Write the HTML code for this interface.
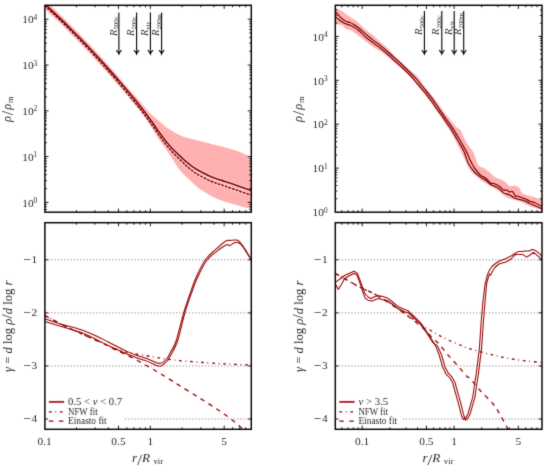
<!DOCTYPE html>
<html><head><meta charset="utf-8"><style>
html,body{margin:0;padding:0;background:#fff;}
svg{display:block;}
text{font-family:"Liberation Serif","DejaVu Serif",serif;fill:#2a2a2a;}
.tl{font-size:11.4px;}
.sup{font-size:7.4px;}
.al{font-size:11.6px;}
.sub2{font-size:8px;}
.it{font-style:italic;}
.ar{font-size:10.6px;}
.sub{font-size:6.8px;}
.lg{font-size:9.4px;}
.sl{font-size:14px;}
</style></head><body>
<svg width="550" height="470" viewBox="0 0 550 470">
<defs><filter id="bl" color-interpolation-filters="sRGB" x="0" y="0" width="550" height="470" filterUnits="userSpaceOnUse"><feConvolveMatrix order="3" kernelMatrix="1 6 1 6 36 6 1 6 1" divisor="64" edgeMode="duplicate" preserveAlpha="true"/></filter><clipPath id="ctl"><rect x="44.9" y="5.3" width="206.4" height="206.9"/></clipPath><clipPath id="ctr"><rect x="335.3" y="5.3" width="206.7" height="206.9"/></clipPath><clipPath id="cbl"><rect x="44.9" y="222.7" width="206.4" height="206.6"/></clipPath><clipPath id="cbr"><rect x="335.3" y="222.7" width="206.7" height="206.6"/></clipPath></defs>
<g filter="url(#bl)"><rect width="550" height="470" fill="#fff"/>
<g clip-path="url(#ctl)"><path d="M36,-7.77 C37.33,-6.57 41.33,-3.02 44,-0.59 C46.67,1.84 49.33,4.31 52,6.81 C54.67,9.31 57,11.51 60,14.42 C63,17.33 66.67,20.92 70,24.25 C73.33,27.58 76.67,30.97 80,34.41 C83.33,37.85 86.67,41.34 90,44.9 C93.33,48.45 96.67,52.07 100,55.74 C103.33,59.41 106.67,63.14 110,66.92 C113.33,70.7 116.67,74.54 120,78.43 C123.33,82.32 126.67,86.44 130,90.28 C133.33,94.12 137.5,98.66 140,101.5 C142.5,104.34 143.33,105.35 145,107.3 C146.67,109.25 147.65,110.93 150,113.2 C152.35,115.47 156.07,118.33 159.1,120.9 C162.13,123.47 165.17,126.4 168.2,128.6 C171.23,130.8 174.27,132.58 177.3,134.1 C180.33,135.62 182.62,136.57 186.4,137.7 C190.18,138.83 194.93,139.63 200,140.9 C205.07,142.17 210.73,143.67 216.8,145.3 C222.87,146.93 231.67,149.2 236.4,150.7 C241.13,152.2 242.77,153.27 245.2,154.3 C247.63,155.33 249.2,156.12 251,156.9 C252.8,157.68 255.17,158.65 256,159 L256,210.5 C255.17,210.28 253.33,209.85 251,209.2 C248.67,208.55 245.17,207.5 242,206.6 C238.83,205.7 235.9,204.98 232,203.8 C228.1,202.62 222.27,200.93 218.6,199.5 C214.93,198.07 212.6,196.62 210,195.2 C207.4,193.78 205.23,192.47 203,191 C200.77,189.53 199.08,188.47 196.6,186.4 C194.12,184.33 190.37,180.75 188.1,178.6 C185.83,176.45 184.65,175.27 183,173.5 C181.35,171.73 180.03,170.53 178.2,168 C176.37,165.47 173.95,161.3 172,158.3 C170.05,155.3 168.17,152.47 166.5,150 C164.83,147.53 163.75,146 162,143.5 C160.25,141 158.33,138.5 156,135 C153.67,131.5 150.43,126.17 148,122.5 C145.57,118.83 144.4,116.89 141.4,113 C138.4,109.11 133.57,103.46 130,99.18 C126.43,94.9 123.33,91.22 120,87.33 C116.67,83.44 113.33,79.6 110,75.82 C106.67,72.04 103.33,68.31 100,64.64 C96.67,60.97 93.33,57.36 90,53.8 C86.67,50.25 83.33,46.75 80,43.31 C76.67,39.87 73.33,36.48 70,33.15 C66.67,29.82 63,26.23 60,23.32 C57,20.41 54.67,18.21 52,15.71 C49.33,13.21 46.67,10.74 44,8.31 C41.33,5.88 37.33,2.33 36,1.13 Z" fill="#ffb0b0"/><path d="M36,-2.22 C37.33,-1.02 41.33,2.54 44,4.98 C46.67,7.42 49.33,9.9 52,12.42 C54.67,14.94 57,17.15 60,20.07 C63,22.99 66.67,26.6 70,29.95 C73.33,33.3 76.67,36.7 80,40.16 C83.33,43.62 86.67,47.13 90,50.7 C93.33,54.27 96.67,57.89 100,61.59 C103.33,65.28 106.67,69.06 110,72.87 C113.33,76.68 116.67,80.54 120,84.46 C123.33,88.38 127,92.76 130,96.38 C133,100 135.6,103.16 138,106.19 C140.4,109.22 142.07,111.41 144.4,114.54 C146.73,117.68 149.4,121.33 152,125.02 C154.6,128.71 157.67,133.42 160,136.7 C162.33,139.98 163.95,142.17 166,144.7 C168.05,147.23 169.97,149.41 172.3,151.91 C174.63,154.4 177.55,157.24 180,159.66 C182.45,162.08 184.75,164.42 187,166.42 C189.25,168.42 191.33,170.08 193.5,171.63 C195.67,173.19 197.17,174.19 200,175.75 C202.83,177.31 207.5,179.63 210.5,180.97 C213.5,182.31 215.58,182.93 218,183.79 C220.42,184.64 221.67,184.97 225,186.1 C228.33,187.23 233.67,189.05 238,190.55 C242.33,192.05 248,194.03 251,195.1 C254,196.17 255.17,196.64 256,196.95" fill="none" stroke="#ffe2e2" stroke-width="3.1"/><path d="M36,-3.92 C37.33,-2.73 41.33,0.82 44,3.24 C46.67,5.66 49.33,8.11 52,10.6 C54.67,13.09 57,15.28 60,18.17 C63,21.06 66.67,24.63 70,27.95 C73.33,31.27 76.67,34.64 80,38.06 C83.33,41.48 86.67,44.96 90,48.5 C93.33,52.04 96.67,55.64 100,59.29 C103.33,62.94 106.67,66.62 110,70.37 C113.33,74.12 116.67,77.93 120,81.8 C123.33,85.66 127,90.01 130,93.58 C133,97.15 135.6,100.25 138,103.23 C140.4,106.21 142.07,108.36 144.4,111.46 C146.73,114.55 149.4,118.14 152,121.78 C154.6,125.42 157.67,130.05 160,133.3 C162.33,136.55 163.95,138.77 166,141.3 C168.05,143.83 169.97,146.05 172.3,148.49 C174.63,150.93 177.55,153.62 180,155.94 C182.45,158.26 184.75,160.51 187,162.42 C189.25,164.33 191.33,165.91 193.5,167.38 C195.67,168.86 197.17,169.74 200,171.25 C202.83,172.76 207.5,175.1 210.5,176.43 C213.5,177.76 215.58,178.37 218,179.21 C220.42,180.06 221.67,180.39 225,181.5 C228.33,182.62 233.67,184.42 238,185.91 C242.33,187.39 248,189.34 251,190.4 C254,191.46 255.17,191.94 256,192.25" fill="none" stroke="#ffe2e2" stroke-width="3.1"/><path d="M36,-2.22 C37.33,-1.02 41.33,2.54 44,4.98 C46.67,7.42 49.33,9.9 52,12.42 C54.67,14.94 57,17.15 60,20.07 C63,22.99 66.67,26.6 70,29.95 C73.33,33.3 76.67,36.7 80,40.16 C83.33,43.62 86.67,47.13 90,50.7 C93.33,54.27 96.67,57.89 100,61.59 C103.33,65.28 106.67,69.06 110,72.87 C113.33,76.68 116.67,80.54 120,84.46 C123.33,88.38 127,92.76 130,96.38 C133,100 135.6,103.16 138,106.19 C140.4,109.22 142.07,111.41 144.4,114.54 C146.73,117.68 149.4,121.33 152,125.02 C154.6,128.71 157.67,133.42 160,136.7 C162.33,139.98 163.95,142.17 166,144.7 C168.05,147.23 169.97,149.41 172.3,151.91 C174.63,154.4 177.55,157.24 180,159.66 C182.45,162.08 184.75,164.42 187,166.42 C189.25,168.42 191.33,170.08 193.5,171.63 C195.67,173.19 197.17,174.19 200,175.75 C202.83,177.31 207.5,179.63 210.5,180.97 C213.5,182.31 215.58,182.93 218,183.79 C220.42,184.64 221.67,184.97 225,186.1 C228.33,187.23 233.67,189.05 238,190.55 C242.33,192.05 248,194.03 251,195.1 C254,196.17 255.17,196.64 256,196.95" fill="none" stroke="#880000" stroke-width="1.6" stroke-dasharray="2.9 0.9"/><path d="M36,-3.92 C37.33,-2.73 41.33,0.82 44,3.24 C46.67,5.66 49.33,8.11 52,10.6 C54.67,13.09 57,15.28 60,18.17 C63,21.06 66.67,24.63 70,27.95 C73.33,31.27 76.67,34.64 80,38.06 C83.33,41.48 86.67,44.96 90,48.5 C93.33,52.04 96.67,55.64 100,59.29 C103.33,62.94 106.67,66.62 110,70.37 C113.33,74.12 116.67,77.93 120,81.8 C123.33,85.66 127,90.01 130,93.58 C133,97.15 135.6,100.25 138,103.23 C140.4,106.21 142.07,108.36 144.4,111.46 C146.73,114.55 149.4,118.14 152,121.78 C154.6,125.42 157.67,130.05 160,133.3 C162.33,136.55 163.95,138.77 166,141.3 C168.05,143.83 169.97,146.05 172.3,148.49 C174.63,150.93 177.55,153.62 180,155.94 C182.45,158.26 184.75,160.51 187,162.42 C189.25,164.33 191.33,165.91 193.5,167.38 C195.67,168.86 197.17,169.74 200,171.25 C202.83,172.76 207.5,175.1 210.5,176.43 C213.5,177.76 215.58,178.37 218,179.21 C220.42,180.06 221.67,180.39 225,181.5 C228.33,182.62 233.67,184.42 238,185.91 C242.33,187.39 248,189.34 251,190.4 C254,191.46 255.17,191.94 256,192.25" fill="none" stroke="#880000" stroke-width="1.6"/></g><g clip-path="url(#ctr)"><path d="M333,6.5 C333.52,6.82 334.53,7.53 336.1,8.4 C337.67,9.27 340.1,10.22 342.4,11.7 C344.7,13.18 347.42,15.57 349.9,17.3 C352.38,19.03 354.78,20.07 357.3,22.1 C359.82,24.13 362.38,27.27 365,29.5 C367.62,31.73 370.5,33.42 373,35.5 C375.5,37.58 377.42,39.67 380,42 C382.58,44.33 386,46.92 388.5,49.5 C391,52.08 392.58,55 395,57.5 C397.42,60 400.33,62.17 403,64.5 C405.67,66.83 408.67,69.5 411,71.5 C413.33,73.5 414.83,74.08 417,76.5 C419.17,78.92 421.83,83.17 424,86 C426.17,88.83 428,91 430,93.5 C432,96 434,98.33 436,101 C438,103.67 440,106.83 442,109.5 C444,112.17 446.17,114.67 448,117 C449.83,119.33 451.5,121.67 453,123.5 C454.5,125.33 455.82,126.92 457,128 C458.18,129.08 458.8,128 460.1,130 C461.4,132 463.4,137.33 464.8,140 C466.2,142.67 467.18,144.07 468.5,146 C469.82,147.93 471.7,149.93 472.7,151.6 C473.7,153.27 473.87,154.27 474.5,156 C475.13,157.73 475.67,160.2 476.5,162 C477.33,163.8 478.32,165.77 479.5,166.8 C480.68,167.83 481.77,167.07 483.6,168.2 C485.43,169.33 488.68,172.13 490.5,173.6 C492.32,175.07 493.37,176.2 494.5,177 C495.63,177.8 495.93,177.82 497.3,178.4 C498.67,178.98 501.12,179.58 502.7,180.5 C504.28,181.42 505.67,182.92 506.8,183.9 C507.93,184.88 508.63,185.98 509.5,186.4 C510.37,186.82 511.08,186.48 512,186.4 C512.92,186.32 513.82,185.63 515,185.9 C516.18,186.17 517.97,186.78 519.1,188 C520.23,189.22 520.43,191.95 521.8,193.2 C523.17,194.45 525.25,194.78 527.3,195.5 C529.35,196.22 531.82,196.82 534.1,197.5 C536.38,198.18 539.18,199.02 541,199.6 C542.82,200.18 544.33,200.77 545,201 L545,211 C544.2,210.72 541.87,209.88 540.2,209.3 C538.53,208.72 536.92,208.15 535,207.5 C533.08,206.85 531.33,206.47 528.7,205.4 C526.07,204.33 522.72,202.4 519.2,201.1 C515.68,199.8 510.8,199.15 507.6,197.6 C504.4,196.05 501.93,193.25 500,191.8 C498.07,190.35 497.5,189.82 496,188.9 C494.5,187.98 492.67,187.27 491,186.3 C489.33,185.33 487.67,184.17 486,183.1 C484.33,182.03 482.67,181.15 481,179.9 C479.33,178.65 477.5,176.83 476,175.6 C474.5,174.37 473.33,174.1 472,172.5 C470.67,170.9 469.25,168.33 468,166 C466.75,163.67 465.67,161 464.5,158.5 C463.33,156 462.06,153.17 461,151 C459.94,148.83 459.09,147.33 458.15,145.5 C457.21,143.67 456.46,142.08 455.38,140 C454.3,137.92 452.92,135.08 451.69,133 C450.46,130.92 449.61,129.92 448.03,127.5 C446.45,125.08 443.84,120.92 442.2,118.5 C440.56,116.08 439.87,115.42 438.2,113 C436.53,110.58 434.37,107.08 432.2,104 C430.03,100.92 427.03,96.92 425.2,94.5 C423.37,92.08 422.7,91.58 421.2,89.5 C419.7,87.42 417.7,84.08 416.2,82 C414.7,79.92 414.22,78.97 412.2,77 C410.18,75.03 406.85,72.45 404.08,70.2 C401.31,67.95 398.14,65.62 395.6,63.5 C393.06,61.38 391.27,59.5 388.84,57.5 C386.41,55.5 383.68,53.33 381.04,51.5 C378.4,49.67 375.67,48.33 373,46.5 C370.33,44.67 367.62,42.52 365,40.5 C362.38,38.48 359.2,35.85 357.3,34.4 C355.4,32.95 354.83,32.6 353.6,31.8 C352.37,31 351.13,30.1 349.9,29.6 C348.67,29.1 347.45,29.55 346.2,28.8 C344.95,28.05 344.08,25.97 342.4,25.1 C340.72,24.23 337.67,24.2 336.1,23.6 C334.53,23 333.52,21.85 333,21.5 Z" fill="#ffb0b0" stroke="#ffb0b0" stroke-width="0.6" stroke-linejoin="round"/><path d="M333,15.5 C333.52,15.8 334.9,16.45 336.1,17.3 C337.3,18.15 338.65,19.55 340.2,20.6 C341.75,21.65 343.78,22.85 345.4,23.6 C347.02,24.35 348.53,24.53 349.9,25.1 C351.27,25.67 352.12,26.07 353.6,27 C355.08,27.93 356.9,29.13 358.8,30.7 C360.7,32.27 362.63,34.38 365,36.4 C367.37,38.42 370.33,40.75 373,42.8 C375.67,44.85 378.42,46.65 381,48.7 C383.58,50.75 386.17,53.06 388.5,55.11 C390.83,57.16 392.58,58.81 395,61.02 C397.42,63.23 400.33,65.81 403,68.35 C405.67,70.88 409,74.15 411,76.23 C413,78.31 413.33,78.87 415,80.83 C416.67,82.79 419.3,85.95 421,87.97 C422.7,89.99 423.93,91.35 425.2,92.93 C426.47,94.51 427.47,95.95 428.6,97.45 C429.73,98.95 430.33,99.63 432,101.93 C433.67,104.23 437.02,109.05 438.6,111.26 C440.18,113.47 439.92,112.93 441.5,115.21 C443.08,117.49 446.35,122.35 448.1,124.93 C449.85,127.51 450.43,128.16 452,130.67 C453.57,133.18 455.62,136.78 457.5,140 C459.38,143.22 461.9,147.22 463.3,150 C464.7,152.78 465.05,154.45 465.9,156.7 C466.75,158.95 467.27,161.3 468.4,163.5 C469.53,165.7 471.43,168.23 472.7,169.9 C473.97,171.57 474.62,172.23 476,173.5 C477.38,174.77 479.33,176.35 481,177.5 C482.67,178.65 484.33,179.2 486,180.4 C487.67,181.6 489.33,183.58 491,184.7 C492.67,185.82 494.5,186.3 496,187.1 C497.5,187.9 498.7,188.52 500,189.5 C501.3,190.48 502.2,192.1 503.8,193 C505.4,193.9 507.68,194.02 509.6,194.9 C511.52,195.78 512.9,197.33 515.3,198.3 C517.7,199.27 521.6,199.83 524,200.7 C526.4,201.57 527.8,202.63 529.7,203.5 C531.6,204.37 533.57,205.1 535.4,205.9 C537.23,206.7 539.1,207.57 540.7,208.3 C542.3,209.03 544.28,209.97 545,210.3" fill="none" stroke="#ffd6d6" stroke-width="2.5" stroke-linejoin="round"/><path d="M333,10.4 C333.52,10.73 334.9,11.32 336.1,12.4 C337.3,13.48 338.65,15.47 340.2,16.9 C341.75,18.33 343.78,20.07 345.4,21 C347.02,21.93 348.53,21.93 349.9,22.5 C351.27,23.07 352.12,23.47 353.6,24.4 C355.08,25.33 356.9,26.58 358.8,28.1 C360.7,29.62 362.63,31.52 365,33.5 C367.37,35.48 370.33,37.92 373,40 C375.67,42.08 378.42,43.94 381,46 C383.58,48.06 386.17,50.36 388.5,52.38 C390.83,54.4 392.58,55.97 395,58.14 C397.42,60.31 400.33,62.91 403,65.43 C405.67,67.95 408.67,70.88 411,73.24 C413.33,75.6 414.92,77.17 417,79.58 C419.08,81.98 421.73,85.48 423.5,87.67 C425.27,89.86 426.27,91.05 427.6,92.74 C428.93,94.42 430.33,96.23 431.5,97.78 C432.67,99.33 433.13,99.95 434.6,102.03 C436.07,104.11 438.73,107.97 440.3,110.26 C441.87,112.55 442.22,113.22 444,115.79 C445.78,118.37 449.28,123.23 451,125.71 C452.72,128.19 452.82,128.29 454.3,130.67 C455.78,133.05 458.02,136.78 459.9,140 C461.78,143.22 464.25,147.5 465.6,150 C466.95,152.5 467.25,153.32 468,155 C468.75,156.68 469.27,158.35 470.1,160.1 C470.93,161.85 472.02,163.85 473,165.5 C473.98,167.15 474.67,168.35 476,170 C477.33,171.65 479.33,174.02 481,175.4 C482.67,176.78 484.33,177.02 486,178.3 C487.67,179.58 489.75,182.25 491,183.1 C492.25,183.95 492.67,183.18 493.5,183.4 C494.33,183.62 494.92,183.82 496,184.4 C497.08,184.98 498.7,185.95 500,186.9 C501.3,187.85 502.68,189.57 503.8,190.1 C504.92,190.63 505.73,189.78 506.7,190.1 C507.67,190.42 508.63,191.75 509.6,192 C510.57,192.25 511.55,190.95 512.5,191.6 C513.45,192.25 514.35,195.12 515.3,195.9 C516.25,196.68 516.75,195.9 518.2,196.3 C519.65,196.7 522.08,197.5 524,198.3 C525.92,199.1 527.8,200.32 529.7,201.1 C531.6,201.88 533.57,202.2 535.4,203 C537.23,203.8 539.1,205.07 540.7,205.9 C542.3,206.73 544.28,207.65 545,208" fill="none" stroke="#ffd6d6" stroke-width="2.5" stroke-linejoin="round"/><path d="M333,15.5 C333.52,15.8 334.9,16.45 336.1,17.3 C337.3,18.15 338.65,19.55 340.2,20.6 C341.75,21.65 343.78,22.85 345.4,23.6 C347.02,24.35 348.53,24.53 349.9,25.1 C351.27,25.67 352.12,26.07 353.6,27 C355.08,27.93 356.9,29.13 358.8,30.7 C360.7,32.27 362.63,34.38 365,36.4 C367.37,38.42 370.33,40.75 373,42.8 C375.67,44.85 378.42,46.65 381,48.7 C383.58,50.75 386.17,53.06 388.5,55.11 C390.83,57.16 392.58,58.81 395,61.02 C397.42,63.23 400.33,65.81 403,68.35 C405.67,70.88 409,74.15 411,76.23 C413,78.31 413.33,78.87 415,80.83 C416.67,82.79 419.3,85.95 421,87.97 C422.7,89.99 423.93,91.35 425.2,92.93 C426.47,94.51 427.47,95.95 428.6,97.45 C429.73,98.95 430.33,99.63 432,101.93 C433.67,104.23 437.02,109.05 438.6,111.26 C440.18,113.47 439.92,112.93 441.5,115.21 C443.08,117.49 446.35,122.35 448.1,124.93 C449.85,127.51 450.43,128.16 452,130.67 C453.57,133.18 455.62,136.78 457.5,140 C459.38,143.22 461.9,147.22 463.3,150 C464.7,152.78 465.05,154.45 465.9,156.7 C466.75,158.95 467.27,161.3 468.4,163.5 C469.53,165.7 471.43,168.23 472.7,169.9 C473.97,171.57 474.62,172.23 476,173.5 C477.38,174.77 479.33,176.35 481,177.5 C482.67,178.65 484.33,179.2 486,180.4 C487.67,181.6 489.33,183.58 491,184.7 C492.67,185.82 494.5,186.3 496,187.1 C497.5,187.9 498.7,188.52 500,189.5 C501.3,190.48 502.2,192.1 503.8,193 C505.4,193.9 507.68,194.02 509.6,194.9 C511.52,195.78 512.9,197.33 515.3,198.3 C517.7,199.27 521.6,199.83 524,200.7 C526.4,201.57 527.8,202.63 529.7,203.5 C531.6,204.37 533.57,205.1 535.4,205.9 C537.23,206.7 539.1,207.57 540.7,208.3 C542.3,209.03 544.28,209.97 545,210.3" fill="none" stroke="#880000" stroke-width="1.35" stroke-linejoin="round"/><path d="M333,10.4 C333.52,10.73 334.9,11.32 336.1,12.4 C337.3,13.48 338.65,15.47 340.2,16.9 C341.75,18.33 343.78,20.07 345.4,21 C347.02,21.93 348.53,21.93 349.9,22.5 C351.27,23.07 352.12,23.47 353.6,24.4 C355.08,25.33 356.9,26.58 358.8,28.1 C360.7,29.62 362.63,31.52 365,33.5 C367.37,35.48 370.33,37.92 373,40 C375.67,42.08 378.42,43.94 381,46 C383.58,48.06 386.17,50.36 388.5,52.38 C390.83,54.4 392.58,55.97 395,58.14 C397.42,60.31 400.33,62.91 403,65.43 C405.67,67.95 408.67,70.88 411,73.24 C413.33,75.6 414.92,77.17 417,79.58 C419.08,81.98 421.73,85.48 423.5,87.67 C425.27,89.86 426.27,91.05 427.6,92.74 C428.93,94.42 430.33,96.23 431.5,97.78 C432.67,99.33 433.13,99.95 434.6,102.03 C436.07,104.11 438.73,107.97 440.3,110.26 C441.87,112.55 442.22,113.22 444,115.79 C445.78,118.37 449.28,123.23 451,125.71 C452.72,128.19 452.82,128.29 454.3,130.67 C455.78,133.05 458.02,136.78 459.9,140 C461.78,143.22 464.25,147.5 465.6,150 C466.95,152.5 467.25,153.32 468,155 C468.75,156.68 469.27,158.35 470.1,160.1 C470.93,161.85 472.02,163.85 473,165.5 C473.98,167.15 474.67,168.35 476,170 C477.33,171.65 479.33,174.02 481,175.4 C482.67,176.78 484.33,177.02 486,178.3 C487.67,179.58 489.75,182.25 491,183.1 C492.25,183.95 492.67,183.18 493.5,183.4 C494.33,183.62 494.92,183.82 496,184.4 C497.08,184.98 498.7,185.95 500,186.9 C501.3,187.85 502.68,189.57 503.8,190.1 C504.92,190.63 505.73,189.78 506.7,190.1 C507.67,190.42 508.63,191.75 509.6,192 C510.57,192.25 511.55,190.95 512.5,191.6 C513.45,192.25 514.35,195.12 515.3,195.9 C516.25,196.68 516.75,195.9 518.2,196.3 C519.65,196.7 522.08,197.5 524,198.3 C525.92,199.1 527.8,200.32 529.7,201.1 C531.6,201.88 533.57,202.2 535.4,203 C537.23,203.8 539.1,205.07 540.7,205.9 C542.3,206.73 544.28,207.65 545,208" fill="none" stroke="#880000" stroke-width="1.35" stroke-linejoin="round"/></g><g clip-path="url(#cbl)"><line x1="44.9" y1="259.8" x2="251.3" y2="259.8" stroke="#8a8a8a" stroke-width="1" stroke-dasharray="1.25 1.95"/><line x1="44.9" y1="312.87" x2="251.3" y2="312.87" stroke="#8a8a8a" stroke-width="1" stroke-dasharray="1.25 1.95"/><line x1="44.9" y1="365.94" x2="251.3" y2="365.94" stroke="#8a8a8a" stroke-width="1" stroke-dasharray="1.25 1.95"/><line x1="44.9" y1="419.01" x2="251.3" y2="419.01" stroke="#8a8a8a" stroke-width="1" stroke-dasharray="1.25 1.95"/><path d="M44.9,315.5 C48,317.13 57.22,322.17 63.5,325.3 C69.78,328.43 77.73,332.05 82.6,334.3 C87.47,336.55 89.35,337.32 92.7,338.8 C96.05,340.28 99.98,341.98 102.7,343.2 C105.42,344.42 106.62,345.08 109,346.1 C111.38,347.12 114.33,348.35 117,349.3 C119.67,350.25 122.17,351.07 125,351.8 C127.83,352.53 130.45,353.05 134,353.7 C137.55,354.35 142.45,355.05 146.3,355.7 C150.15,356.35 152.58,356.88 157.1,357.6 C161.62,358.32 166.53,359.25 173.4,360 C180.27,360.75 189.37,361.43 198.3,362.1 C207.23,362.77 218.05,363.52 227,364 C235.95,364.48 247.83,364.83 252,365" fill="none" stroke="#990000" stroke-width="1.3" stroke-dasharray="2.8 3.6 0.9 3.7"/><path d="M44.9,315.5 C48,317.13 57.22,322.17 63.5,325.3 C69.78,328.43 77.73,332.05 82.6,334.3 C87.47,336.55 89.35,337.3 92.7,338.8 C96.05,340.3 99.98,342.02 102.7,343.3 C105.42,344.58 106.62,345.32 109,346.5 C111.38,347.68 114.33,349.12 117,350.4 C119.67,351.68 122.3,352.88 125,354.2 C127.7,355.52 130.33,356.81 133.2,358.3 C136.07,359.8 139.28,361.57 142.2,363.17 C145.12,364.77 147.85,366.27 150.7,367.92 C153.55,369.57 156.43,371.36 159.3,373.08 C162.17,374.8 164.58,376.17 167.9,378.22 C171.22,380.27 174.13,382.21 179.2,385.37 C184.27,388.53 191.92,393.14 198.3,397.17 C204.68,401.2 211.75,405.65 217.5,409.53 C223.25,413.41 228.22,416.87 232.8,420.45 C237.38,424.03 242.97,429.24 245,431" fill="none" stroke="#990000" stroke-width="1.3" stroke-dasharray="4.5 4.8"/><path d="M40,320.3 C40.82,320.52 41.2,320.52 44.9,321.6 C48.6,322.68 56.28,325.01 62.2,326.8 C68.12,328.59 75.1,330.42 80.4,332.33 C85.7,334.24 89.37,336.08 94,338.28 C98.63,340.47 102.8,342.93 108.2,345.5 C113.6,348.07 121.73,351.65 126.4,353.7 C131.07,355.75 132.7,356.52 136.2,357.8 C139.7,359.08 144.05,360.11 147.4,361.37 C150.75,362.63 154.18,364.59 156.3,365.39 C158.42,366.19 158.85,366.42 160.1,366.19 C161.35,365.96 162.57,364.97 163.8,364.02 C165.03,363.07 166.28,362.09 167.5,360.5 C168.72,358.91 169.45,357.67 171.1,354.5 C172.75,351.33 175.08,348.5 177.4,341.5 C179.72,334.5 182.47,321.08 185,312.5 C187.53,303.92 190.57,295.72 192.6,290 C194.62,284.28 194.83,283.08 197.15,278.2 C199.47,273.32 203.22,265.18 206.5,260.7 C209.78,256.22 213.45,253.95 216.8,251.3 C220.15,248.65 224.47,245.75 226.6,244.8 C228.73,243.85 228.32,245.93 229.6,245.6 C230.88,245.27 233.02,243.33 234.3,242.8 C235.58,242.27 236.18,242.12 237.3,242.4 C238.42,242.68 239.55,242.98 241,244.5 C242.45,246.02 244.25,248.83 246,251.5 C247.75,254.17 250,258.08 251.5,260.5 C253,262.92 254.42,265.08 255,266" fill="none" stroke="#950000" stroke-width="1.05" stroke-linejoin="round"/><path d="M40,317.5 C40.82,317.72 41.2,317.63 44.9,318.8 C48.6,319.97 56.28,322.72 62.2,324.5 C68.12,326.28 75.1,327.77 80.4,329.51 C85.7,331.25 89.37,332.84 94,334.92 C98.63,337 102.8,339.3 108.2,342 C113.6,344.7 121.73,348.9 126.4,351.1 C131.07,353.3 132.7,353.91 136.2,355.2 C139.7,356.49 144.05,357.58 147.4,358.84 C150.75,360.1 154.18,362 156.3,362.74 C158.42,363.49 158.9,363.46 160.1,363.31 C161.3,363.16 162.35,362.66 163.5,361.86 C164.65,361.06 165.82,360.14 167,358.5 C168.18,356.86 169.03,354.92 170.55,352 C172.07,349.08 173.89,347.58 176.1,341 C178.31,334.42 181.25,321 183.8,312.5 C186.35,304 189.38,295.8 191.4,290 C193.43,284.2 193.63,282.73 195.95,277.7 C198.27,272.67 201.99,264.52 205.3,259.8 C208.61,255.08 212.43,252.5 215.8,249.4 C219.17,246.3 223.1,242.7 225.5,241.2 C227.9,239.7 228.43,240.6 230.2,240.4 C231.97,240.2 234.53,239.77 236.1,240 C237.67,240.23 238.02,240.12 239.6,241.8 C241.18,243.48 243.62,246.98 245.6,250.1 C247.58,253.22 249.93,257.85 251.5,260.5 C253.07,263.15 254.42,265.08 255,266" fill="none" stroke="#950000" stroke-width="1.05" stroke-linejoin="round"/></g><g clip-path="url(#cbr)"><line x1="335.3" y1="259.8" x2="542" y2="259.8" stroke="#8a8a8a" stroke-width="1" stroke-dasharray="1.25 1.95"/><line x1="335.3" y1="312.87" x2="542" y2="312.87" stroke="#8a8a8a" stroke-width="1" stroke-dasharray="1.25 1.95"/><line x1="335.3" y1="365.94" x2="542" y2="365.94" stroke="#8a8a8a" stroke-width="1" stroke-dasharray="1.25 1.95"/><line x1="335.3" y1="419.01" x2="542" y2="419.01" stroke="#8a8a8a" stroke-width="1" stroke-dasharray="1.25 1.95"/><path d="M335.3,273.5 C337.38,274.67 343.58,278.17 347.8,280.5 C352.02,282.83 356.17,285.25 360.6,287.5 C365.03,289.75 369.27,291.2 374.4,294 C379.53,296.8 386.3,301.05 391.4,304.3 C396.5,307.55 401.07,310.8 405,313.5 C408.93,316.2 411.88,318.28 415,320.5 C418.12,322.72 421.28,325.27 423.7,326.8 C426.12,328.33 427.73,328.73 429.5,329.7 C431.27,330.67 432.7,331.65 434.3,332.6 C435.9,333.55 436.8,334.18 439.1,335.4 C441.4,336.62 444.62,338.3 448.1,339.9 C451.58,341.5 456.35,343.52 460,345 C463.65,346.48 464.43,347.12 470,348.8 C475.57,350.48 485.6,353.27 493.4,355.1 C501.2,356.93 508.53,358.55 516.8,359.8 C525.07,361.05 538.63,362.13 543,362.6" fill="none" stroke="#990000" stroke-width="1.3" stroke-dasharray="2.8 3.6 0.9 3.7"/><path d="M335.3,273.5 C337.38,274.67 343.58,278.17 347.8,280.5 C352.02,282.83 356.17,285.25 360.6,287.5 C365.03,289.75 369.27,291.2 374.4,294 C379.53,296.8 386.3,300.97 391.4,304.3 C396.5,307.63 401.07,311.13 405,314 C408.93,316.87 411.88,319.05 415,321.5 C418.12,323.95 420.8,325.98 423.7,328.7 C426.6,331.42 429.83,335.23 432.4,337.8 C434.97,340.37 436.48,341.22 439.1,344.1 C441.72,346.98 444.95,351.45 448.1,355.1 C451.25,358.75 454.88,362.48 458,366 C461.12,369.52 464.8,374.12 466.8,376.2 C468.8,378.28 467.8,376.15 470,378.5 C472.2,380.85 476.1,386 480,390.3 C483.9,394.6 490.07,400.27 493.4,404.3 C496.73,408.33 497.4,410.05 500,414.5 C502.6,418.95 507.5,428.25 509,431" fill="none" stroke="#990000" stroke-width="1.3" stroke-dasharray="4.5 4.8"/><path d="M333,283.5 L336.1,285.1 L338.3,289.4 L341,285 L344.6,278.7 L349,275.8 L354.2,273.4 L357,275 L359.5,281.9 L364.9,297.9 L368,300.2 L372.3,301.1 L375.5,299.5 L378.7,298.5 L383,299.7 L388.3,301.1 L392,304 L397.8,308.5 L405.6,312.2 L408.5,313.1 L414,318.1 L420,323.7 L423.8,328.5 L429.5,337.1 L433,342.6 L437.6,346.2 L441.6,355 L445.1,367.3 L448.4,373.2 L452.3,377.4 L455,382.5 L457.7,392.4 L461.3,405.1 L463.9,416 L465.6,420.3 L467.8,418.3 L470.2,413.7 L474.9,397.3 L476.9,383.2 L478.4,373.9 L481.6,348.1 L483.5,320 L485.2,300 L486.6,284 L488.4,277 L489.5,274 L490.7,275.1 L492.5,271 L494.9,267.5 L499,264 L506,262 L511,259 L515.6,254.4 L522.6,254.4 L526.7,257.1 L530,255 L533.6,252.3 L539.2,257.1 L542,259.9 L545,263" fill="none" stroke="#950000" stroke-width="1.05" stroke-linejoin="round"/><path d="M333,282.5 L336.1,281.9 L340,279 L344.6,275.5 L349,273.5 L354.2,271.3 L357.4,273.4 L361,283 L364.9,293.6 L368,297 L371.2,298.5 L375,296.5 L378.7,295.7 L383,296.5 L387.2,297.9 L392,301.5 L397.8,306.4 L404.6,309.6 L407.5,310.5 L413,315.5 L419,321.1 L422.8,325.9 L428.5,334.5 L432,340 L435.4,345.4 L439,354.5 L442.7,367.1 L446.3,374.4 L449.9,378 L452.6,382.5 L455.3,392.4 L458.9,405.1 L461.6,416 L463.4,419.6 L466,417.5 L468,413.7 L472.7,397.3 L474.7,383.2 L476.2,373.9 L479.4,348.1 L481.3,320 L483.1,300 L485.2,283.4 L487.3,275.1 L489.4,270.3 L492,266.5 L494.9,264 L499,261.3 L506,258.5 L512,255.5 L515.6,253 L518.4,251.6 L522,251.5 L525.3,250.9 L529,251 L532.2,249.5 L535,250.2 L540.5,254.4 L542,257 L545,261" fill="none" stroke="#950000" stroke-width="1.05" stroke-linejoin="round"/></g><rect x="44.9" y="394" width="79.1" height="35.3" fill="#fff"/><rect x="335.3" y="394" width="66.2" height="35.3" fill="#fff"/><line x1="118.9" y1="12.5" x2="118.9" y2="53.1" stroke="#000" stroke-width="1.1"/><path d="M116.3,50.1 Q118.3,52.3 118.9,54.1 Q119.5,52.3 121.5,50.1" fill="none" stroke="#000" stroke-width="1.05"/><path d="M117.9,51.9 L118.9,54.3 L119.9,51.9 Z" fill="#000"/><text transform="translate(116.5,36.1) rotate(-90)" class="ar"><tspan class="it">R</tspan><tspan class="sub" dy="1.9">500c</tspan></text><line x1="136.6" y1="12.5" x2="136.6" y2="53.1" stroke="#000" stroke-width="1.1"/><path d="M134,50.1 Q136,52.3 136.6,54.1 Q137.2,52.3 139.2,50.1" fill="none" stroke="#000" stroke-width="1.05"/><path d="M135.6,51.9 L136.6,54.3 L137.6,51.9 Z" fill="#000"/><text transform="translate(134.2,36.1) rotate(-90)" class="ar"><tspan class="it">R</tspan><tspan class="sub" dy="1.9">200c</tspan></text><line x1="150.4" y1="12.5" x2="150.4" y2="53.1" stroke="#000" stroke-width="1.1"/><path d="M147.8,50.1 Q149.8,52.3 150.4,54.1 Q151,52.3 153,50.1" fill="none" stroke="#000" stroke-width="1.05"/><path d="M149.4,51.9 L150.4,54.3 L151.4,51.9 Z" fill="#000"/><text transform="translate(148,36.1) rotate(-90)" class="ar"><tspan class="it">R</tspan><tspan class="sub" dy="1.9">vir</tspan></text><line x1="161.6" y1="12.5" x2="161.6" y2="53.1" stroke="#000" stroke-width="1.1"/><path d="M159,50.1 Q161,52.3 161.6,54.1 Q162.2,52.3 164.2,50.1" fill="none" stroke="#000" stroke-width="1.05"/><path d="M160.6,51.9 L161.6,54.3 L162.6,51.9 Z" fill="#000"/><text transform="translate(159.2,36.1) rotate(-90)" class="ar"><tspan class="it">R</tspan><tspan class="sub" dy="1.9">200m</tspan></text><line x1="424.4" y1="11.1" x2="424.4" y2="53.1" stroke="#000" stroke-width="1.1"/><path d="M421.8,50.1 Q423.8,52.3 424.4,54.1 Q425,52.3 427,50.1" fill="none" stroke="#000" stroke-width="1.05"/><path d="M423.4,51.9 L424.4,54.3 L425.4,51.9 Z" fill="#000"/><text transform="translate(422,35) rotate(-90)" class="ar"><tspan class="it">R</tspan><tspan class="sub" dy="1.9">500c</tspan></text><line x1="441.8" y1="11.1" x2="441.8" y2="53.1" stroke="#000" stroke-width="1.1"/><path d="M439.2,50.1 Q441.2,52.3 441.8,54.1 Q442.4,52.3 444.4,50.1" fill="none" stroke="#000" stroke-width="1.05"/><path d="M440.8,51.9 L441.8,54.3 L442.8,51.9 Z" fill="#000"/><text transform="translate(439.4,35) rotate(-90)" class="ar"><tspan class="it">R</tspan><tspan class="sub" dy="1.9">200c</tspan></text><line x1="454.2" y1="11.1" x2="454.2" y2="53.1" stroke="#000" stroke-width="1.1"/><path d="M451.6,50.1 Q453.6,52.3 454.2,54.1 Q454.8,52.3 456.8,50.1" fill="none" stroke="#000" stroke-width="1.05"/><path d="M453.2,51.9 L454.2,54.3 L455.2,51.9 Z" fill="#000"/><text transform="translate(451.8,35) rotate(-90)" class="ar"><tspan class="it">R</tspan><tspan class="sub" dy="1.9">vir</tspan></text><line x1="463.7" y1="11.1" x2="463.7" y2="53.1" stroke="#000" stroke-width="1.1"/><path d="M461.1,50.1 Q463.1,52.3 463.7,54.1 Q464.3,52.3 466.3,50.1" fill="none" stroke="#000" stroke-width="1.05"/><path d="M462.7,51.9 L463.7,54.3 L464.7,51.9 Z" fill="#000"/><text transform="translate(461.3,35) rotate(-90)" class="ar"><tspan class="it">R</tspan><tspan class="sub" dy="1.9">200m</tspan></text><path d="M76.42,212.2v-2.0M76.42,5.3v2.0M95.03,212.2v-2.0M95.03,5.3v2.0M108.24,212.2v-2.0M108.24,5.3v2.0M118.48,212.2v-3.6M118.48,5.3v3.6M126.85,212.2v-2.0M126.85,5.3v2.0M133.93,212.2v-2.0M133.93,5.3v2.0M140.06,212.2v-2.0M140.06,5.3v2.0M145.46,212.2v-2.0M145.46,5.3v2.0M150.3,212.2v-3.6M150.3,5.3v3.6M182.12,212.2v-2.0M182.12,5.3v2.0M200.73,212.2v-2.0M200.73,5.3v2.0M213.94,212.2v-2.0M213.94,5.3v2.0M224.18,212.2v-3.6M224.18,5.3v3.6M232.55,212.2v-2.0M232.55,5.3v2.0M239.63,212.2v-2.0M239.63,5.3v2.0M245.76,212.2v-2.0M245.76,5.3v2.0M76.42,429.3v-2.0M76.42,222.7v2.0M95.03,429.3v-2.0M95.03,222.7v2.0M108.24,429.3v-2.0M108.24,222.7v2.0M118.48,429.3v-3.6M118.48,222.7v3.6M126.85,429.3v-2.0M126.85,222.7v2.0M133.93,429.3v-2.0M133.93,222.7v2.0M140.06,429.3v-2.0M140.06,222.7v2.0M145.46,429.3v-2.0M145.46,222.7v2.0M150.3,429.3v-3.6M150.3,222.7v3.6M182.12,429.3v-2.0M182.12,222.7v2.0M200.73,429.3v-2.0M200.73,222.7v2.0M213.94,429.3v-2.0M213.94,222.7v2.0M224.18,429.3v-3.6M224.18,222.7v3.6M232.55,429.3v-2.0M232.55,222.7v2.0M239.63,429.3v-2.0M239.63,222.7v2.0M245.76,429.3v-2.0M245.76,222.7v2.0M341.81,212.2v-2.0M341.81,5.3v2.0M347.96,212.2v-2.0M347.96,5.3v2.0M353.29,212.2v-2.0M353.29,5.3v2.0M357.99,212.2v-2.0M357.99,5.3v2.0M362.2,212.2v-3.6M362.2,5.3v3.6M389.86,212.2v-2.0M389.86,5.3v2.0M406.05,212.2v-2.0M406.05,5.3v2.0M417.53,212.2v-2.0M417.53,5.3v2.0M426.44,212.2v-3.6M426.44,5.3v3.6M433.71,212.2v-2.0M433.71,5.3v2.0M439.86,212.2v-2.0M439.86,5.3v2.0M445.19,212.2v-2.0M445.19,5.3v2.0M449.89,212.2v-2.0M449.89,5.3v2.0M454.1,212.2v-3.6M454.1,5.3v3.6M481.76,212.2v-2.0M481.76,5.3v2.0M497.95,212.2v-2.0M497.95,5.3v2.0M509.43,212.2v-2.0M509.43,5.3v2.0M518.34,212.2v-3.6M518.34,5.3v3.6M525.61,212.2v-2.0M525.61,5.3v2.0M531.76,212.2v-2.0M531.76,5.3v2.0M537.09,212.2v-2.0M537.09,5.3v2.0M341.81,429.3v-2.0M341.81,222.7v2.0M347.96,429.3v-2.0M347.96,222.7v2.0M353.29,429.3v-2.0M353.29,222.7v2.0M357.99,429.3v-2.0M357.99,222.7v2.0M362.2,429.3v-3.6M362.2,222.7v3.6M389.86,429.3v-2.0M389.86,222.7v2.0M406.05,429.3v-2.0M406.05,222.7v2.0M417.53,429.3v-2.0M417.53,222.7v2.0M426.44,429.3v-3.6M426.44,222.7v3.6M433.71,429.3v-2.0M433.71,222.7v2.0M439.86,429.3v-2.0M439.86,222.7v2.0M445.19,429.3v-2.0M445.19,222.7v2.0M449.89,429.3v-2.0M449.89,222.7v2.0M454.1,429.3v-3.6M454.1,222.7v3.6M481.76,429.3v-2.0M481.76,222.7v2.0M497.95,429.3v-2.0M497.95,222.7v2.0M509.43,429.3v-2.0M509.43,222.7v2.0M518.34,429.3v-3.6M518.34,222.7v3.6M525.61,429.3v-2.0M525.61,222.7v2.0M531.76,429.3v-2.0M531.76,222.7v2.0M537.09,429.3v-2.0M537.09,222.7v2.0M44.9,209.49h2.0M251.3,209.49h-2.0M44.9,206.84h2.0M251.3,206.84h-2.0M44.9,204.5h2.0M251.3,204.5h-2.0M44.9,202.4h3.6M251.3,202.4h-3.6M44.9,188.61h2.0M251.3,188.61h-2.0M44.9,180.55h2.0M251.3,180.55h-2.0M44.9,174.83h2.0M251.3,174.83h-2.0M44.9,170.39h2.0M251.3,170.39h-2.0M44.9,166.76h2.0M251.3,166.76h-2.0M44.9,163.69h2.0M251.3,163.69h-2.0M44.9,161.04h2.0M251.3,161.04h-2.0M44.9,158.7h2.0M251.3,158.7h-2.0M44.9,156.6h3.6M251.3,156.6h-3.6M44.9,142.81h2.0M251.3,142.81h-2.0M44.9,134.75h2.0M251.3,134.75h-2.0M44.9,129.03h2.0M251.3,129.03h-2.0M44.9,124.59h2.0M251.3,124.59h-2.0M44.9,120.96h2.0M251.3,120.96h-2.0M44.9,117.89h2.0M251.3,117.89h-2.0M44.9,115.24h2.0M251.3,115.24h-2.0M44.9,112.9h2.0M251.3,112.9h-2.0M44.9,110.8h3.6M251.3,110.8h-3.6M44.9,97.01h2.0M251.3,97.01h-2.0M44.9,88.95h2.0M251.3,88.95h-2.0M44.9,83.23h2.0M251.3,83.23h-2.0M44.9,78.79h2.0M251.3,78.79h-2.0M44.9,75.16h2.0M251.3,75.16h-2.0M44.9,72.09h2.0M251.3,72.09h-2.0M44.9,69.44h2.0M251.3,69.44h-2.0M44.9,67.1h2.0M251.3,67.1h-2.0M44.9,65h3.6M251.3,65h-3.6M44.9,51.21h2.0M251.3,51.21h-2.0M44.9,43.15h2.0M251.3,43.15h-2.0M44.9,37.43h2.0M251.3,37.43h-2.0M44.9,32.99h2.0M251.3,32.99h-2.0M44.9,29.36h2.0M251.3,29.36h-2.0M44.9,26.29h2.0M251.3,26.29h-2.0M44.9,23.64h2.0M251.3,23.64h-2.0M44.9,21.3h2.0M251.3,21.3h-2.0M44.9,19.2h3.6M251.3,19.2h-3.6M335.3,198.78h2.0M542,198.78h-2.0M335.3,191.05h2.0M542,191.05h-2.0M335.3,185.57h2.0M542,185.57h-2.0M335.3,181.32h2.0M542,181.32h-2.0M335.3,177.84h2.0M542,177.84h-2.0M335.3,174.9h2.0M542,174.9h-2.0M335.3,172.35h2.0M542,172.35h-2.0M335.3,170.11h2.0M542,170.11h-2.0M335.3,168.1h3.6M542,168.1h-3.6M335.3,154.88h2.0M542,154.88h-2.0M335.3,147.15h2.0M542,147.15h-2.0M335.3,141.67h2.0M542,141.67h-2.0M335.3,137.42h2.0M542,137.42h-2.0M335.3,133.94h2.0M542,133.94h-2.0M335.3,131h2.0M542,131h-2.0M335.3,128.45h2.0M542,128.45h-2.0M335.3,126.21h2.0M542,126.21h-2.0M335.3,124.2h3.6M542,124.2h-3.6M335.3,110.98h2.0M542,110.98h-2.0M335.3,103.25h2.0M542,103.25h-2.0M335.3,97.77h2.0M542,97.77h-2.0M335.3,93.52h2.0M542,93.52h-2.0M335.3,90.04h2.0M542,90.04h-2.0M335.3,87.1h2.0M542,87.1h-2.0M335.3,84.55h2.0M542,84.55h-2.0M335.3,82.31h2.0M542,82.31h-2.0M335.3,80.3h3.6M542,80.3h-3.6M335.3,67.08h2.0M542,67.08h-2.0M335.3,59.35h2.0M542,59.35h-2.0M335.3,53.87h2.0M542,53.87h-2.0M335.3,49.62h2.0M542,49.62h-2.0M335.3,46.14h2.0M542,46.14h-2.0M335.3,43.2h2.0M542,43.2h-2.0M335.3,40.65h2.0M542,40.65h-2.0M335.3,38.41h2.0M542,38.41h-2.0M335.3,36.4h3.6M542,36.4h-3.6M335.3,23.18h2.0M542,23.18h-2.0M335.3,15.45h2.0M542,15.45h-2.0M335.3,9.97h2.0M542,9.97h-2.0M44.9,259.8h3.2M251.3,259.8h-3.2M44.9,312.87h3.2M251.3,312.87h-3.2M44.9,365.94h3.2M251.3,365.94h-3.2M44.9,419.01h3.2M251.3,419.01h-3.2M335.3,259.8h3.2M542,259.8h-3.2M335.3,312.87h3.2M542,312.87h-3.2M335.3,365.94h3.2M542,365.94h-3.2M335.3,419.01h3.2M542,419.01h-3.2" stroke="#111" stroke-width="0.95" fill="none"/><rect x="44.9" y="5.3" width="206.4" height="206.9" fill="none" stroke="#000" stroke-width="1.45"/><rect x="335.3" y="5.3" width="206.7" height="206.9" fill="none" stroke="#000" stroke-width="1.45"/><rect x="44.9" y="222.7" width="206.4" height="206.6" fill="none" stroke="#000" stroke-width="1.45"/><rect x="335.3" y="222.7" width="206.7" height="206.6" fill="none" stroke="#000" stroke-width="1.45"/><text x="37.3" y="206.6" class="tl" text-anchor="end">10<tspan class="sup" dy="-3.7">0</tspan></text><text x="37.3" y="160.8" class="tl" text-anchor="end">10<tspan class="sup" dy="-3.7">1</tspan></text><text x="37.3" y="115" class="tl" text-anchor="end">10<tspan class="sup" dy="-3.7">2</tspan></text><text x="37.3" y="69.2" class="tl" text-anchor="end">10<tspan class="sup" dy="-3.7">3</tspan></text><text x="37.3" y="23.4" class="tl" text-anchor="end">10<tspan class="sup" dy="-3.7">4</tspan></text><text x="327.7" y="216.2" class="tl" text-anchor="end">10<tspan class="sup" dy="-3.7">0</tspan></text><text x="327.7" y="172.3" class="tl" text-anchor="end">10<tspan class="sup" dy="-3.7">1</tspan></text><text x="327.7" y="128.4" class="tl" text-anchor="end">10<tspan class="sup" dy="-3.7">2</tspan></text><text x="327.7" y="84.5" class="tl" text-anchor="end">10<tspan class="sup" dy="-3.7">3</tspan></text><text x="327.7" y="40.6" class="tl" text-anchor="end">10<tspan class="sup" dy="-3.7">4</tspan></text><text x="37.2" y="262.6" class="tl" text-anchor="end"><tspan style="font-size:13.6px" dy="1.5">−</tspan><tspan dx="0.6" dy="-1.5">1</tspan></text><text x="37.2" y="315.67" class="tl" text-anchor="end"><tspan style="font-size:13.6px" dy="1.5">−</tspan><tspan dx="0.6" dy="-1.5">2</tspan></text><text x="37.2" y="368.74" class="tl" text-anchor="end"><tspan style="font-size:13.6px" dy="1.5">−</tspan><tspan dx="0.6" dy="-1.5">3</tspan></text><text x="37.2" y="421.81" class="tl" text-anchor="end"><tspan style="font-size:13.6px" dy="1.5">−</tspan><tspan dx="0.6" dy="-1.5">4</tspan></text><text x="327.6" y="262.6" class="tl" text-anchor="end"><tspan style="font-size:13.6px" dy="1.5">−</tspan><tspan dx="0.6" dy="-1.5">1</tspan></text><text x="327.6" y="315.67" class="tl" text-anchor="end"><tspan style="font-size:13.6px" dy="1.5">−</tspan><tspan dx="0.6" dy="-1.5">2</tspan></text><text x="327.6" y="368.74" class="tl" text-anchor="end"><tspan style="font-size:13.6px" dy="1.5">−</tspan><tspan dx="0.6" dy="-1.5">3</tspan></text><text x="327.6" y="421.81" class="tl" text-anchor="end"><tspan style="font-size:13.6px" dy="1.5">−</tspan><tspan dx="0.6" dy="-1.5">4</tspan></text><text x="44.6" y="444.5" class="tl" text-anchor="middle">0.1</text><text x="118.48" y="444.5" class="tl" text-anchor="middle">0.5</text><text x="150.3" y="444.5" class="tl" text-anchor="middle">1</text><text x="224.18" y="444.5" class="tl" text-anchor="middle">5</text><text x="362.2" y="444.5" class="tl" text-anchor="middle">0.1</text><text x="426.44" y="444.5" class="tl" text-anchor="middle">0.5</text><text x="454.1" y="444.5" class="tl" text-anchor="middle">1</text><text x="518.34" y="444.5" class="tl" text-anchor="middle">5</text><text x="132" y="462.3" class="al" textLength="18" lengthAdjust="spacingAndGlyphs"><tspan class="it">r</tspan><tspan style="font-size:15px" dy="2.2">/</tspan><tspan class="it" dy="-2.2">R</tspan></text><text x="153.4" y="464" class="sub2" textLength="9.8" lengthAdjust="spacingAndGlyphs">vir</text><text x="422.4" y="462.3" class="al" textLength="18" lengthAdjust="spacingAndGlyphs"><tspan class="it">r</tspan><tspan style="font-size:15px" dy="2.2">/</tspan><tspan class="it" dy="-2.2">R</tspan></text><text x="443.8" y="464" class="sub2" textLength="9.8" lengthAdjust="spacingAndGlyphs">vir</text><text transform="translate(10.5,121.9) rotate(-90)" class="al" style="font-size:12.4px" textLength="25.6" lengthAdjust="spacing"><tspan class="it">ρ</tspan><tspan style="font-size:16.5px" dy="2.8">/</tspan><tspan class="it" dy="-2.8">ρ</tspan><tspan class="sub2" dy="2.4" style="font-size:8.6px">m</tspan></text><text transform="translate(11.5,372) rotate(-90)" class="al" textLength="91.5" lengthAdjust="spacingAndGlyphs"><tspan class="it">γ</tspan> = <tspan class="it">d</tspan> log <tspan class="it">ρ</tspan><tspan class="sl">/</tspan><tspan class="it">d</tspan> log <tspan class="it">r</tspan></text><text transform="translate(301.5,121.9) rotate(-90)" class="al" style="font-size:12.4px" textLength="25.6" lengthAdjust="spacing"><tspan class="it">ρ</tspan><tspan style="font-size:16.5px" dy="2.8">/</tspan><tspan class="it" dy="-2.8">ρ</tspan><tspan class="sub2" dy="2.4" style="font-size:8.6px">m</tspan></text><text transform="translate(302.5,372) rotate(-90)" class="al" textLength="91.5" lengthAdjust="spacingAndGlyphs"><tspan class="it">γ</tspan> = <tspan class="it">d</tspan> log <tspan class="it">ρ</tspan><tspan class="sl">/</tspan><tspan class="it">d</tspan> log <tspan class="it">r</tspan></text><line x1="48.9" y1="401.9" x2="64.2" y2="401.9" stroke="#b01e28" stroke-width="1.9"/><line x1="48.9" y1="411.9" x2="64.2" y2="411.9" stroke="#990000" stroke-width="1.3" stroke-dasharray="2.8 3.6 0.9 3.7"/><line x1="48.9" y1="421.2" x2="64.2" y2="421.2" stroke="#990000" stroke-width="1.3" stroke-dasharray="4.5 5.5"/><text x="68" y="405" class="lg" textLength="54.2" lengthAdjust="spacingAndGlyphs">0.5 &lt; <tspan class="it">ν</tspan> &lt;  0.7</text><text x="68" y="414.6" class="lg" textLength="29.6" lengthAdjust="spacingAndGlyphs">NFW fit</text><text x="68" y="424.4" class="lg" textLength="38.7" lengthAdjust="spacingAndGlyphs">Einasto fit</text><line x1="339.3" y1="401.9" x2="354.6" y2="401.9" stroke="#b01e28" stroke-width="1.9"/><line x1="339.3" y1="411.9" x2="354.6" y2="411.9" stroke="#990000" stroke-width="1.3" stroke-dasharray="2.8 3.6 0.9 3.7"/><line x1="339.3" y1="421.2" x2="354.6" y2="421.2" stroke="#990000" stroke-width="1.3" stroke-dasharray="4.5 5.5"/><text x="358.4" y="405" class="lg" textLength="29.9" lengthAdjust="spacingAndGlyphs"><tspan class="it">ν</tspan> &gt; 3.5</text><text x="358.4" y="414.6" class="lg" textLength="29.6" lengthAdjust="spacingAndGlyphs">NFW fit</text><text x="358.4" y="424.4" class="lg" textLength="38.7" lengthAdjust="spacingAndGlyphs">Einasto fit</text>
</g>
</svg>
</body></html>
